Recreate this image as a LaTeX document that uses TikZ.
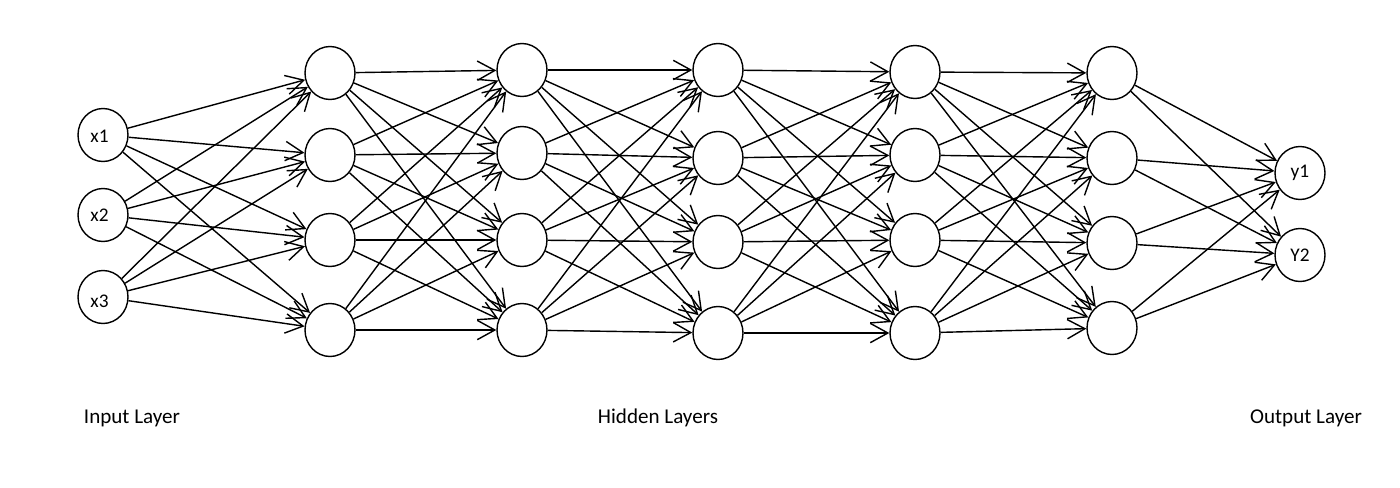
\documentclass[tikz,border=0pt]{standalone}
\usepackage{fontspec}
\setmainfont{Carlito}
\usetikzlibrary{arrows.meta, positioning, shapes.geometric}

\begin{document}
\begin{tikzpicture}[x=0.02cm, y=-0.02cm, >={Straight Barb[length=10pt, width=11pt]},
    neuron/.style={draw, thick, ellipse, minimum width=1cm, minimum height=1.06cm, inner sep=0pt, font=\fontsize{11}{12}\selectfont},
    link/.style={->, thick},
    caption/.style={font=\fontsize{12}{14}\selectfont}]
  \useasboundingbox (0,0) rectangle (1400,487);

  % input layer
  \node[neuron] (I1) at (103,135) {\raisebox{-8pt}{\hspace{-4pt}x1}};
  \node[neuron] (I2) at (103,215) {\raisebox{-2pt}{\hspace{-4pt}x2}};
  \node[neuron] (I3) at (103,297) {\raisebox{-12pt}{\hspace{-4pt}x3}};

  % hidden layers
  \foreach \l/\x/\ya/\yb/\yc/\yd in {1/330/73/155/240/330, 2/522/70/153/240/330,
      3/718/70/158/242/333, 4/915/72/155/240/333, 5/1112/73/158/243/328} {
    \node[neuron] (H\l-1) at (\x,\ya) {};
    \node[neuron] (H\l-2) at (\x,\yb) {};
    \node[neuron] (H\l-3) at (\x,\yc) {};
    \node[neuron] (H\l-4) at (\x,\yd) {};
  }

  % output layer
  \node[neuron] (O1) at (1300,173) {\raisebox{2pt}{y1}};
  \node[neuron] (O2) at (1300,255) {\raisebox{-2pt}{Y2}};

  % connections
  \foreach \i in {1,2,3}
    \foreach \j in {1,...,4}
      \draw[link] (I\i) -- (H1-\j);
  \foreach \l [evaluate=\l as \n using int(\l+1)] in {1,...,4}
    \foreach \i in {1,...,4}
      \foreach \j in {1,...,4}
        \draw[link] (H\l-\i) -- (H\n-\j);
  \foreach \i in {1,...,4}
    \foreach \j in {1,2}
      \draw[link] (H5-\i) -- (O\j);

  % captions
  \node[caption] (inLabel) at (132,418) {Input Layer};
  \node[caption] (hidLabel) at (658,418) {Hidden Layers};
  \node[caption] (outLabel) at (1306,418) {Output Layer};
\end{tikzpicture}
\end{document}
